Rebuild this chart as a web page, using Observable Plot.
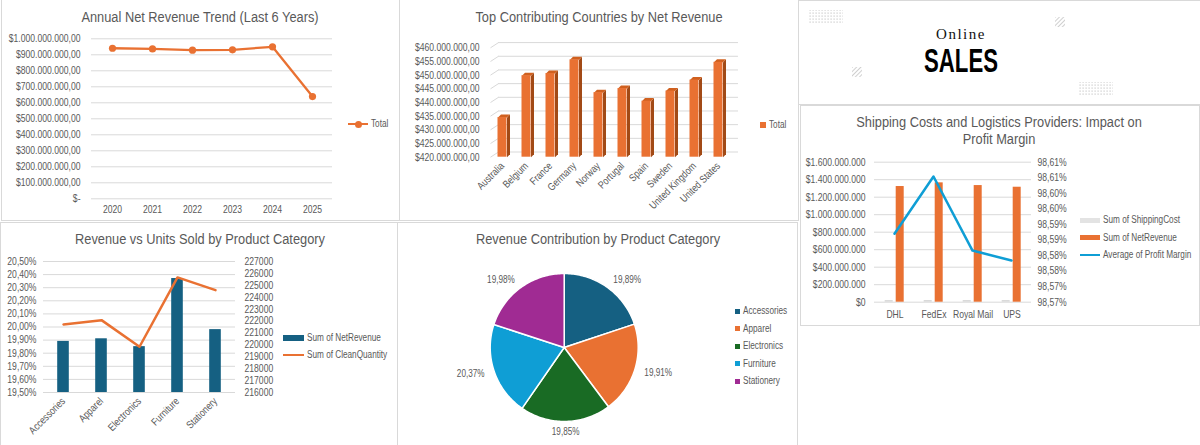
<!DOCTYPE html>
<html>
<head>
<meta charset="utf-8">
<script src="https://cdn.jsdelivr.net/npm/d3@7"></script>
<script src="https://cdn.jsdelivr.net/npm/@observablehq/plot@0.6"></script>
<style>
  body { margin: 0; background: #fff; }
  #board { position: relative; width: 1200px; height: 445px; overflow: hidden; background: #fff;
    font-family: "Liberation Sans", Arial, sans-serif; color: #595959; }
  .panel { position: absolute; box-sizing: border-box; border: 1px solid #D9D9D9; }
  .title { position: absolute; font-size: 14px; color: #595959; white-space: nowrap; line-height: 1;
    transform: translate(-50%, -50%) scaleX(0.915); }
  .leg { position: absolute; font-size: 10px; white-space: nowrap; line-height: 1; color: #595959;
    transform-origin: 0 50%; transform: translateY(-50%) scaleX(0.82); }
  .sw { position: absolute; }
</style>
</head>
<body>
<div id="board"></div>
<script>
// ---------- data ----------
const years = ["2020", "2021", "2022", "2023", "2024", "2025"];
const annualRevenue = [941e6, 937e6, 929e6, 931e6, 950e6, 639e6];
const annualTicks = [0, 1e8, 2e8, 3e8, 4e8, 5e8, 6e8, 7e8, 8e8, 9e8, 1e9];

const countries = ["Australia", "Belgium", "France", "Germany", "Norway", "Portugal", "Spain", "Sweden", "United Kingdom", "United States"];
const countryRevenue = [434.5e6, 449.8e6, 450.6e6, 455.6e6, 443.6e6, 445.1e6, 440.5e6, 444.2e6, 448.2e6, 454.7e6];
const countryTicks = [420e6, 425e6, 430e6, 435e6, 440e6, 445e6, 450e6, 455e6, 460e6];

const carriers = ["DHL", "FedEx", "Royal Mail", "UPS"];
const shippingCost = [18.7e6, 19.1e6, 18.9e6, 18.8e6];
const carrierRevenue = [1322e6, 1364e6, 1333e6, 1314e6];
const profitMargin = [98.592, 98.6104, 98.5866, 98.5834];
const carrierTicks = [0, 2e8, 4e8, 6e8, 8e8, 10e8, 12e8, 14e8, 16e8];
const marginTicks = [98.57, 98.575, 98.58, 98.585, 98.59, 98.595, 98.6, 98.605, 98.61, 98.615];
const marginTickLabels = ["98,57%", "98,57%", "98,58%", "98,58%", "98,59%", "98,59%", "98,60%", "98,60%", "98,61%", "98,61%"];

const categories = ["Accessories", "Apparel", "Electronics", "Furniture", "Stationery"];
const revenueShare = [19.89, 19.91, 19.85, 20.37, 19.98];
const cleanQuantity = [221714, 222076, 219840, 225664, 224597];
const shareTicks = [19.5, 19.6, 19.7, 19.8, 19.9, 20.0, 20.1, 20.2, 20.3, 20.4, 20.5];
const quantityTicks = [216000, 217000, 218000, 219000, 220000, 221000, 222000, 223000, 224000, 225000, 226000, 227000];
const categoryColors = ["#156082", "#E97132", "#196B24", "#0F9ED5", "#A02B93"];

// ---------- styling helpers ----------
const FONT = '"Liberation Sans", Arial, sans-serif';
const NARROW = 0.82;   // horizontal squeeze that turns the sans face into a narrow cut
const TEXT = "#595959", GRID = "#D9D9D9", ORANGE = "#E97132", ORANGE_SIDE = "#A24A16", ORANGE_TOP = "#D0601F";
const TEAL = "#156082", BLUE = "#0F9ED5";
const locale = d3.formatLocale({decimal: ",", thousands: ".", grouping: [3], currency: ["$", ""]});
const money2 = locale.format("$,.2f");
const money0 = locale.format("$,.0f");
const fixed2 = locale.format(".2f");
const plotStyle = {background: "transparent", fontFamily: FONT, fontSize: "10.5px", color: TEXT, overflow: "visible"};

const board = document.getElementById("board");

// squeeze every label of a chart horizontally around its own anchor point
function narrow(svg) {
  svg.querySelectorAll("text").forEach(t => {
    const ax = parseFloat(t.getAttribute("x")) || 0;
    const base = t.getAttribute("transform") || "";
    t.setAttribute("transform", `${base} translate(${ax},0) scale(${NARROW},1) translate(${-ax},0)`);
  });
  return svg;
}
function place(el, left, top) {
  el.style.position = "absolute";
  el.style.left = left + "px";
  el.style.top = top + "px";
  board.appendChild(el);
  return el;
}
function div(cls, css, html) {
  const d = document.createElement("div");
  if (cls) d.className = cls;
  d.style.cssText = css;
  if (html != null) d.textContent = html;
  board.appendChild(d);
  return d;
}
function title(text, x, y) { div("title", `left:${x}px;top:${y}px;`, text); }
function legendEntry(kind, color, label, x, y, w = 20, h = 6) {
  if (kind === "line" || kind === "lineDot") {
    div("sw", `left:${x}px;top:${y - 1.2}px;width:${w}px;height:2.4px;background:${color};`);
    if (kind === "lineDot") div("sw", `left:${x + w / 2 - 3.5}px;top:${y - 3.5}px;width:7px;height:7px;border-radius:50%;background:${color};`);
  } else {
    div("sw", `left:${x}px;top:${y - h / 2}px;width:${w}px;height:${h}px;background:${color};`);
  }
  div("leg", `left:${x + w + 2.5}px;top:${y}px;`, label);
}

// ---------- panels ----------
div("panel", "left:1px;top:-1px;width:399px;height:222px;");
div("panel", "left:399px;top:-1px;width:400px;height:222px;");
div("panel", "left:798px;top:0px;width:404px;height:105px;border-right:none;");
div("panel", "left:800px;top:105px;width:400px;height:221px;");
div("panel", "left:0px;top:222px;width:398px;height:225px;");
div("panel", "left:397px;top:222px;width:401px;height:225px;");

// ---------- 1. Annual net revenue trend ----------
{
  const rows = years.map((y, i) => ({year: y, revenue: annualRevenue[i]}));
  const chart = Plot.plot({
    width: 400, height: 221,
    marginLeft: 91, marginRight: 68, marginTop: 38.3, marginBottom: 22.7,
    style: plotStyle,
    x: {type: "point", domain: years, padding: 0.5, label: null},
    y: {domain: [0, 1e9], label: null},
    marks: [
      Plot.ruleY(annualTicks, {stroke: GRID, strokeWidth: 1}),
      Plot.axisY(annualTicks, {tickSize: 0, tickPadding: 11, label: null, tickFormat: d => d === 0 ? "$-" : money2(d)}),
      Plot.axisX({tickSize: 0, tickPadding: 7, label: null}),
      Plot.line(rows, {x: "year", y: "revenue", stroke: ORANGE, strokeWidth: 2.3}),
      Plot.dot(rows, {x: "year", y: "revenue", r: 3.6, fill: ORANGE, stroke: "none"})
    ]
  });
  place(narrow(chart), 0, 0);
  title("Annual Net Revenue Trend (Last 6 Years)", 200, 16.5);
  legendEntry("lineDot", ORANGE, "Total", 348, 124);
}

// ---------- 2. Top contributing countries (3-D columns) ----------
{
  const half = 0.1875, depthX = 0.125, depthY = 1.1e6;       // bar half-width and extrusion
  const wallX = 0.333, wallY = 1.9e6;                          // back-wall offset
  const base = countryTicks[0];
  const rows = countries.map((c, i) => ({i, country: c, revenue: countryRevenue[i]}));
  const sides = [], tops = [];
  rows.forEach(d => {
    const xr = d.i + half, xl = d.i - half;
    sides.push({k: d.country, x: xr, y: base}, {k: d.country, x: xr, y: d.revenue},
               {k: d.country, x: xr + depthX, y: d.revenue + depthY}, {k: d.country, x: xr + depthX, y: base + depthY});
    tops.push({k: d.country, x: xl, y: d.revenue}, {k: d.country, x: xr, y: d.revenue},
              {k: d.country, x: xr + depthX, y: d.revenue + depthY}, {k: d.country, x: xl + depthX, y: d.revenue + depthY});
  });
  const chart = Plot.plot({
    width: 399, height: 221,
    marginLeft: 91, marginRight: 68, marginTop: 47.3, marginBottom: 64.3,
    style: plotStyle,
    x: {domain: [-0.5, 9.5], label: null},
    y: {domain: [base, countryTicks[countryTicks.length - 1]], label: null},
    marks: [
      Plot.ruleY(countryTicks, {x1: -0.5 + wallX, x2: 9.5 + wallX, y: d => d + wallY, stroke: GRID}),
      Plot.link(countryTicks, {x1: -0.5, y1: d => d, x2: -0.5 + wallX, y2: d => d + wallY, stroke: GRID}),
      Plot.axisY(countryTicks, {tickSize: 0, tickPadding: 11, label: null, tickFormat: d => money2(d)}),
      Plot.axisX(d3.range(countries.length), {tickSize: 0, tickPadding: 7, tickRotate: -45, label: null, tickFormat: i => countries[i]}),
      Plot.line(sides, {x: "x", y: "y", z: "k", fill: ORANGE_SIDE, stroke: "none", curve: "linear-closed"}),
      Plot.line(tops, {x: "x", y: "y", z: "k", fill: ORANGE_TOP, stroke: "none", curve: "linear-closed"}),
      Plot.rect(rows, {x1: d => d.i - half, x2: d => d.i + half, y1: base, y2: "revenue", fill: ORANGE})
    ]
  });
  place(narrow(chart), 399, 0);
  title("Top Contributing Countries by Net Revenue", 599, 16.5);
  legendEntry("rect", ORANGE, "Total", 760, 124.7, 6, 6);
}

// ---------- 3. Heading block ----------
{
  const ns = "http://www.w3.org/2000/svg";
  const svg = document.createElementNS(ns, "svg");
  svg.setAttribute("width", 400); svg.setAttribute("height", 104);
  svg.innerHTML = `
    <defs>
      <pattern id="dots" width="3" height="3" patternUnits="userSpaceOnUse">
        <rect x="0.5" y="0.5" width="1.2" height="1.2" fill="#C8C8C8"/>
      </pattern>
      <pattern id="hatch" width="3" height="3" patternUnits="userSpaceOnUse" patternTransform="rotate(45)">
        <rect x="0" y="0" width="1" height="3" fill="#D0D0D0"/>
      </pattern>
    </defs>
    <rect x="9" y="10" width="34" height="13" fill="url(#dots)"/>
    <rect x="279" y="82" width="34" height="13" fill="url(#dots)"/>
    <rect x="255" y="17" width="10" height="10" fill="url(#hatch)"/>
    <rect x="52" y="67" width="10" height="10" fill="url(#hatch)"/>
    <text x="161" y="38.5" text-anchor="middle" font-family="'Liberation Serif', 'DejaVu Serif', serif" font-size="15" letter-spacing="1.5" fill="#111">Online</text>
    <text x="161" y="72" text-anchor="middle" font-family="'Liberation Sans', Arial, sans-serif" font-weight="bold" font-size="33.5" textLength="74" lengthAdjust="spacingAndGlyphs" fill="#000">SALES</text>`;
  place(svg, 800, 0);
}

// ---------- 4. Shipping costs & providers ----------
{
  const rows = carriers.map((c, i) => ({carrier: c, cost: shippingCost[i], revenue: carrierRevenue[i], margin: profitMargin[i]}));
  const common = {
    width: 399, height: 221,
    marginLeft: 74, marginRight: 168, marginTop: 56.7, marginBottom: 24.3,
    style: plotStyle
  };
  const bars = Plot.plot({
    ...common,
    x: {type: "band", domain: carriers, padding: 0, label: null},
    y: {domain: [0, 16e8], label: null},
    marks: [
      Plot.ruleY(carrierTicks, {stroke: GRID}),
      Plot.axisY(carrierTicks, {tickSize: 0, tickPadding: 9, label: null, tickFormat: d => d === 0 ? "$0" : money0(d)}),
      Plot.axisX({tickSize: 0, tickPadding: 8, label: null}),
      Plot.barY(rows, {x: "carrier", y: "cost", fill: GRID, insetLeft: 9.7, insetRight: 21.3}),
      Plot.barY(rows, {x: "carrier", y: "revenue", fill: ORANGE, insetLeft: 20.7, insetRight: 10.3})
    ]
  });
  place(narrow(bars), 800, 105);
  const line = Plot.plot({
    ...common,
    x: {type: "point", domain: carriers, padding: 0.5, label: null, axis: null},
    y: {domain: [marginTicks[0], marginTicks[marginTicks.length - 1]], label: null},
    marks: [
      Plot.axisY(marginTicks, {anchor: "right", tickSize: 0, tickPadding: 6, label: null, tickFormat: d => marginTickLabels[marginTicks.indexOf(d)]}),
      Plot.line(rows, {x: "carrier", y: "margin", stroke: BLUE, strokeWidth: 2.5})
    ]
  });
  place(narrow(line), 800, 105);
  title("Shipping Costs and Logistics Providers: Impact on", 999, 121.7);
  title("Profit Margin", 999, 139.3);
  legendEntry("rect", "#E3E3E3", "Sum of ShippingCost", 1080, 220, 20, 5);
  legendEntry("rect", ORANGE, "Sum of NetRevenue", 1080, 237.7, 20, 5);
  legendEntry("line", BLUE, "Average of Profit Margin", 1080, 255, 20);
}

// ---------- 5. Revenue vs units sold ----------
{
  const rows = categories.map((c, i) => ({category: c, share: revenueShare[i], qty: cleanQuantity[i]}));
  const common = {
    width: 397, height: 223,
    marginLeft: 43, marginRight: 162, marginTop: 39, marginBottom: 53,
    style: plotStyle
  };
  const bars = Plot.plot({
    ...common,
    x: {type: "band", domain: categories, padding: 0, label: null},
    y: {domain: [19.5, 20.5], label: null},
    marks: [
      Plot.ruleY(shareTicks, {stroke: GRID}),
      Plot.axisY(shareTicks, {tickSize: 0, tickPadding: 7, label: null, tickFormat: d => fixed2(d) + "%"}),
      Plot.axisX({tickSize: 0, tickPadding: 7, tickRotate: -45, label: null}),
      Plot.barY(rows, {x: "category", y1: 19.5, y2: "share", fill: TEAL, insetLeft: 13.2, insetRight: 13.2})
    ]
  });
  place(narrow(bars), 0, 222);
  const line = Plot.plot({
    ...common,
    x: {type: "point", domain: categories, padding: 0.5, label: null, axis: null},
    y: {domain: [216000, 227000], label: null},
    marks: [
      Plot.axisY(quantityTicks, {anchor: "right", tickSize: 0, tickPadding: 9, label: null, tickFormat: d => String(d)}),
      Plot.line(rows, {x: "category", y: "qty", stroke: ORANGE, strokeWidth: 2.5})
    ]
  });
  place(narrow(line), 0, 222);
  title("Revenue vs Units Sold by Product Category", 200, 238.7);
  legendEntry("rect", TEAL, "Sum of NetRevenue", 283, 338, 21, 6);
  legendEntry("line", ORANGE, "Sum of CleanQuantity", 283, 355.3, 21);
}

// ---------- 6. Revenue contribution pie ----------
{
  const R = 74, cx = 165.7, cy = 125, W = 400, H = 223;
  const total = d3.sum(revenueShare);
  const slices = [], labels = [];
  let acc = 0;
  revenueShare.forEach((v, i) => {
    const a0 = acc / total * 2 * Math.PI;
    acc += v;
    const a1 = acc / total * 2 * Math.PI;
    slices.push({cat: categories[i], x: 0, y: 0});
    const steps = 60;
    for (let s = 0; s <= steps; ++s) {
      const a = a0 + (a1 - a0) * s / steps;
      slices.push({cat: categories[i], x: R * Math.sin(a), y: R * Math.cos(a)});
    }
    const m = (a0 + a1) / 2, sin = Math.sin(m);
    labels.push({x: 84 * sin, y: 84 * Math.cos(m), text: fixed2(v) + "%",
                 anchor: sin > 0.3 ? "start" : sin < -0.3 ? "end" : "middle"});
  });
  const chart = Plot.plot({
    width: W, height: H, margin: 0,
    style: plotStyle,
    x: {domain: [-cx, W - cx], axis: null},
    y: {domain: [-(H - cy), cy], axis: null},
    color: {domain: categories, range: categoryColors},
    marks: [
      Plot.line(slices, {x: "x", y: "y", z: "cat", fill: "cat", stroke: "white", strokeWidth: 1.5, curve: "linear-closed"}),
      Plot.text(labels.filter(d => d.anchor === "start"), {x: "x", y: "y", text: "text", textAnchor: "start", fill: TEXT, fontSize: 10}),
      Plot.text(labels.filter(d => d.anchor === "end"), {x: "x", y: "y", text: "text", textAnchor: "end", fill: TEXT, fontSize: 10}),
      Plot.text(labels.filter(d => d.anchor === "middle"), {x: "x", y: "y", text: "text", textAnchor: "middle", fill: TEXT, fontSize: 10})
    ]
  });
  place(narrow(chart), 398, 222);
  title("Revenue Contribution by Product Category", 598, 238.7);
  categories.forEach((c, i) => legendEntry("rect", categoryColors[i], c, 735, 311.3 + i * 17.5, 5, 5));
}
</script>
</body>
</html>
